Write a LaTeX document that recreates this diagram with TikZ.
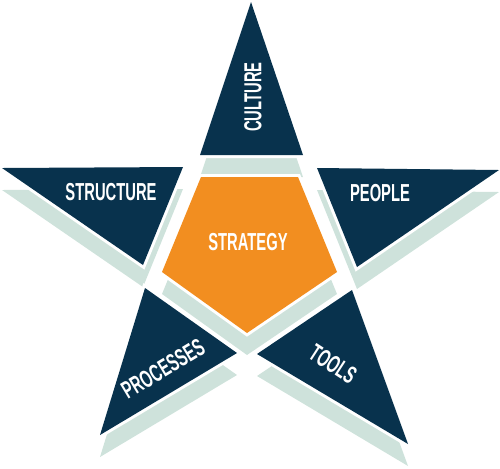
\documentclass[tikz,border=0pt]{standalone}
\usepackage{fontspec}
\newfontfamily\starfont[FakeStretch=0.6]{Liberation Sans Bold}
\definecolor{navy}{RGB}{8,50,77}
\definecolor{orng}{RGB}{242,142,32}
\definecolor{shade}{RGB}{206,226,219}
\tikzset{
  shadowpart/.style={fill=shade, shift={(0,22)}},
  gapline/.style={draw=white, line width=6*0.02cm, line join=miter},
  armfill/.style={fill=navy},
  corefill/.style={fill=orng},
  lbl/.style={text=white, inner sep=0pt, font=\starfont\fontsize{14pt}{14pt}\selectfont}
}
\def\pTop{(251,2) -- (303,155) -- (200,155) -- cycle}
\def\pLeft{(2,168) -- (183,167) -- (143,265) -- cycle}
\def\pRight{(317,168) -- (499,170) -- (357,267) -- cycle}
\def\pBL{(145,288) -- (237,353) -- (100,435) -- cycle}
\def\pBR{(352,290) -- (408,444) -- (257,354) -- cycle}
\def\pCore{(201,177) -- (298,177) -- (337,272) -- (247,333) -- (162,272) -- cycle}
\begin{document}
\begin{tikzpicture}[x=0.02cm,y=-0.02cm]
\useasboundingbox (0,0) rectangle (500,468);
% shadows
\fill[shadowpart] \pTop;
\fill[shadowpart] \pLeft;
\fill[shadowpart] \pRight;
\fill[shadowpart] \pBL;
\fill[shadowpart] \pBR;
\fill[shadowpart] \pCore;
% white gaps
\draw[gapline] \pTop;
\draw[gapline] \pLeft;
\draw[gapline] \pRight;
\draw[gapline] \pBL;
\draw[gapline] \pBR;
\draw[gapline] \pCore;
% shapes
\fill[armfill] \pTop;
\fill[armfill] \pLeft;
\fill[armfill] \pRight;
\fill[armfill] \pBL;
\fill[armfill] \pBR;
\fill[corefill] \pCore;
% labels
\node[lbl, rotate=90] (culture) at (253,97) {CULTURE};
\node[lbl] (structure) at (111,192) {STRUCTURE};
\node[lbl] (people) at (380,193) {PEOPLE};
\node[lbl] (strategy) at (248,242) {STRATEGY};
\node[lbl, rotate=31] (processes) at (163,369) {PROCESSES};
\node[lbl, rotate=-33] (tools) at (333,364) {TOOLS};
\end{tikzpicture}
\end{document}
